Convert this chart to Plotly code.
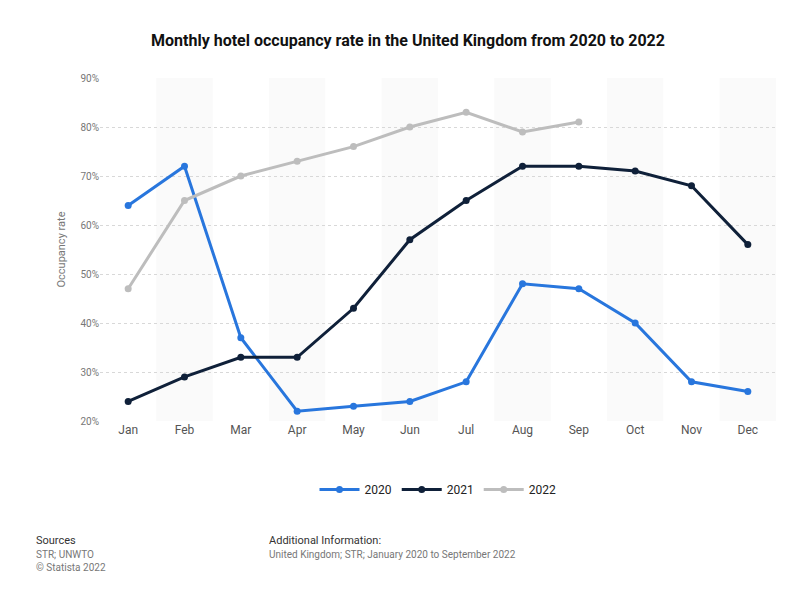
import plotly.graph_objects as go

months = ["Jan","Feb","Mar","Apr","May","Jun","Jul","Aug","Sep","Oct","Nov","Dec"]
y2020 = [64,72,37,22,23,24,28,48,47,40,28,26]
y2021 = [24,29,33,33,43,57,65,72,72,71,68,56]
y2022 = [47,65,70,73,76,80,83,79,81]
yticks = [20,30,40,50,60,70,80,90]

fig = go.Figure()
for name, ys, col in [("2020", y2020, "#2876dd"), ("2021", y2021, "#0f2039"), ("2022", y2022, "#bdbdbd")]:
    fig.add_trace(go.Scatter(x=months[:len(ys)], y=ys, name=name, mode="lines+markers",
                             line=dict(color=col, width=3), marker=dict(size=7, color=col)))

shapes = []
for i in range(1, 12, 2):
    shapes.append(dict(type="rect", xref="x", yref="paper", x0=i-0.5, x1=i+0.5, y0=0, y1=1,
                       fillcolor="#fafafa", line=dict(width=0), layer="below"))

W, H = 800, 594
l, r, t_, b = 92, 32, 70, 181
fig.update_layout(
    width=W, height=H, paper_bgcolor="white", plot_bgcolor="white",
    title=dict(text="<b>Monthly hotel occupancy rate in the United Kingdom from 2020 to 2022</b>",
               x=0.5, y=0.955, font=dict(family="Roboto, Arial", size=16, color="#111")),
    font=dict(family="Roboto, Arial", color="#666"),
    margin=dict(l=l, r=r, t=t_, b=b, autoexpand=False),
    shapes=shapes,
    xaxis=dict(range=[-0.5, 11.5], showgrid=False, tickfont=dict(size=12, color="#555"), ticks="", automargin=False),
    yaxis=dict(range=[20, 90], tickvals=yticks, ticktext=[f"{v}%" for v in yticks], automargin=False,
               gridcolor="#d8d8d8", griddash="dot", zeroline=False, tickfont=dict(size=10, color="#777"),
               title=dict(text="Occupancy rate", font=dict(size=11, color="#777"), standoff=12)),
    legend=dict(orientation="h", x=0.5, xanchor="center", y=-0.2, yanchor="middle",
                font=dict(size=12, color="#222"), itemwidth=40),
)
ann = [
    ("Sources", 26, 532, 11, "#333"), ("STR; UNWTO", 26, 546, 10, "#777"), ("© Statista 2022", 26, 559, 10, "#777"),
    ("Additional Information:", 259, 532, 11, "#333"), ("United Kingdom; STR; January 2020 to September 2022", 259, 546, 10, "#777"),
]
pw, ph = W - l - r, H - t_ - b
for t, px, py, s, c in ann:
    fig.add_annotation(text=t, x=(px - l) / pw, y=1 - (py - t_) / ph, xref="paper", yref="paper",
                       showarrow=False, xanchor="left", yanchor="middle", font=dict(size=s, color=c))
fig.write_html("out.html")
